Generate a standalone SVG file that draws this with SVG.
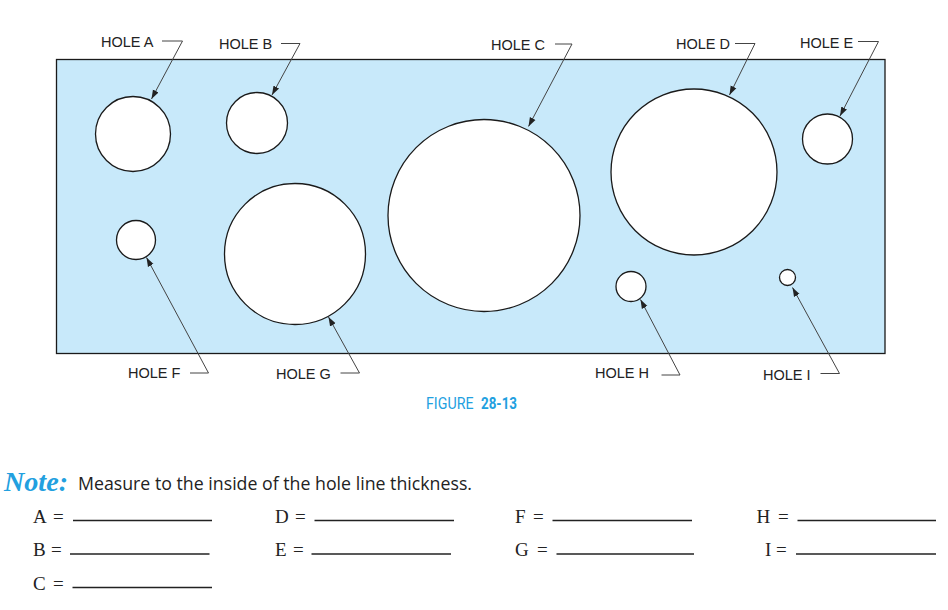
<svg xmlns="http://www.w3.org/2000/svg" width="948" height="610" viewBox="0 0 948 610">
<style>
.hole{fill:#fff;stroke:#1a1a1a;stroke-width:1.3}
.lbl{font-family:"Liberation Sans",Arial,sans-serif;font-size:14.5px;fill:#222}
.ld{fill:none;stroke:#444;stroke-width:1}
.ans{font-family:"Liberation Serif","Times New Roman",serif;font-size:19px;fill:#222}
.ul{stroke:#222;stroke-width:1.3}
.blue{fill:#22a0df}
</style>
<defs>
<marker id="ah" viewBox="0 0 10 10" refX="10" refY="5" markerWidth="9" markerHeight="9" markerUnits="userSpaceOnUse" orient="auto">
<path d="M0,1.5 L10,5 L0,8.5 Z" fill="#222"/>
</marker>
</defs>
<rect x="56.5" y="59.5" width="828.5" height="294" fill="#c8e9fa" stroke="#1a1a1a" stroke-width="1.3"/>
<g id="holeA"><circle class="hole" cx="133" cy="134" r="37.5"/><text class="lbl" x="101" y="47">HOLE A</text></g>
<g id="holeB"><circle class="hole" cx="257" cy="123" r="30.5"/><text class="lbl" x="219" y="49">HOLE B</text></g>
<g id="holeC"><circle class="hole" cx="484" cy="215.5" r="96"/><text class="lbl" x="491" y="50">HOLE C</text></g>
<g id="holeD"><circle class="hole" cx="694" cy="172" r="83"/><text class="lbl" x="676" y="49">HOLE D</text></g>
<g id="holeE"><circle class="hole" cx="827.5" cy="139" r="25"/><text class="lbl" x="800" y="48">HOLE E</text></g>
<g id="holeF"><circle class="hole" cx="136" cy="240" r="19.5"/><text class="lbl" x="128" y="378">HOLE F</text></g>
<g id="holeG"><circle class="hole" cx="295" cy="254" r="70.5"/><text class="lbl" x="276" y="379">HOLE G</text></g>
<g id="holeH"><circle class="hole" cx="631" cy="286.5" r="15"/><text class="lbl" x="595" y="378">HOLE H</text></g>
<g id="holeI"><circle class="hole" cx="787.5" cy="277.5" r="8"/><text class="lbl" x="763" y="380">HOLE I</text></g>
<g id="connectors">
<polyline class="ld" points="162,41 182.5,41 151.5,99" marker-end="url(#ah)"/>
<polyline class="ld" points="281,43.5 300,43.5 272,95" marker-end="url(#ah)"/>
<polyline class="ld" points="555,44 572,44 528.5,126.5" marker-end="url(#ah)"/>
<polyline class="ld" points="735,43.5 755,43.5 729.5,95" marker-end="url(#ah)"/>
<polyline class="ld" points="858,41.5 878.5,41.5 840,116" marker-end="url(#ah)"/>
<polyline class="ld" points="190,373 208.5,373 146.5,257.5" marker-end="url(#ah)"/>
<polyline class="ld" points="340.5,373 359.5,373 328.5,317" marker-end="url(#ah)"/>
<polyline class="ld" points="661.5,375 680,375 640.5,299.5" marker-end="url(#ah)"/>
<polyline class="ld" points="820.5,373.5 839.5,373.5 792.5,287.5" marker-end="url(#ah)"/>
</g>
<text class="blue" x="426" y="409" font-family="Roboto,'Liberation Sans',sans-serif" font-size="16" textLength="47.5" lengthAdjust="spacingAndGlyphs">FIGURE</text>
<text class="blue" x="481" y="409" font-family="Roboto,'Liberation Sans',sans-serif" font-size="16" font-weight="bold" textLength="36" lengthAdjust="spacingAndGlyphs">28-13</text>
<text class="blue" x="4" y="491" font-family="'Liberation Serif',serif" font-size="28" font-style="italic" font-weight="bold" textLength="64" lengthAdjust="spacingAndGlyphs">Note:</text>
<text x="78" y="490" font-family="'Open Sans','Noto Sans',sans-serif" font-size="17.5" fill="#222" textLength="394" lengthAdjust="spacingAndGlyphs">Measure to the inside of the hole line thickness.</text>
<g id="answers">
<text class="ans" x="33" y="523">A<tspan x="53">=</tspan></text><line class="ul" x1="73" y1="520.5" x2="212" y2="520.5"/>
<text class="ans" x="33" y="556">B<tspan x="51">=</tspan></text><line class="ul" x1="70" y1="554" x2="209.5" y2="554"/>
<text class="ans" x="33" y="590">C<tspan x="53">=</tspan></text><line class="ul" x1="72.5" y1="587.5" x2="212" y2="587.5"/>
<text class="ans" x="275" y="523">D<tspan x="295">=</tspan></text><line class="ul" x1="314.5" y1="520.5" x2="454" y2="520.5"/>
<text class="ans" x="275" y="556">E<tspan x="293">=</tspan></text><line class="ul" x1="311.5" y1="554" x2="451" y2="554"/>
<text class="ans" x="515" y="523">F<tspan x="533">=</tspan></text><line class="ul" x1="552.5" y1="520.5" x2="692" y2="520.5"/>
<text class="ans" x="515" y="556">G<tspan x="537">=</tspan></text><line class="ul" x1="556.5" y1="554" x2="694" y2="554"/>
<text class="ans" x="756.5" y="523">H<tspan x="778">=</tspan></text><line class="ul" x1="797.5" y1="520.5" x2="936" y2="520.5"/>
<text class="ans" x="765" y="556">I<tspan x="776">=</tspan></text><line class="ul" x1="796" y1="554" x2="936" y2="554"/>
</g>
</svg>
